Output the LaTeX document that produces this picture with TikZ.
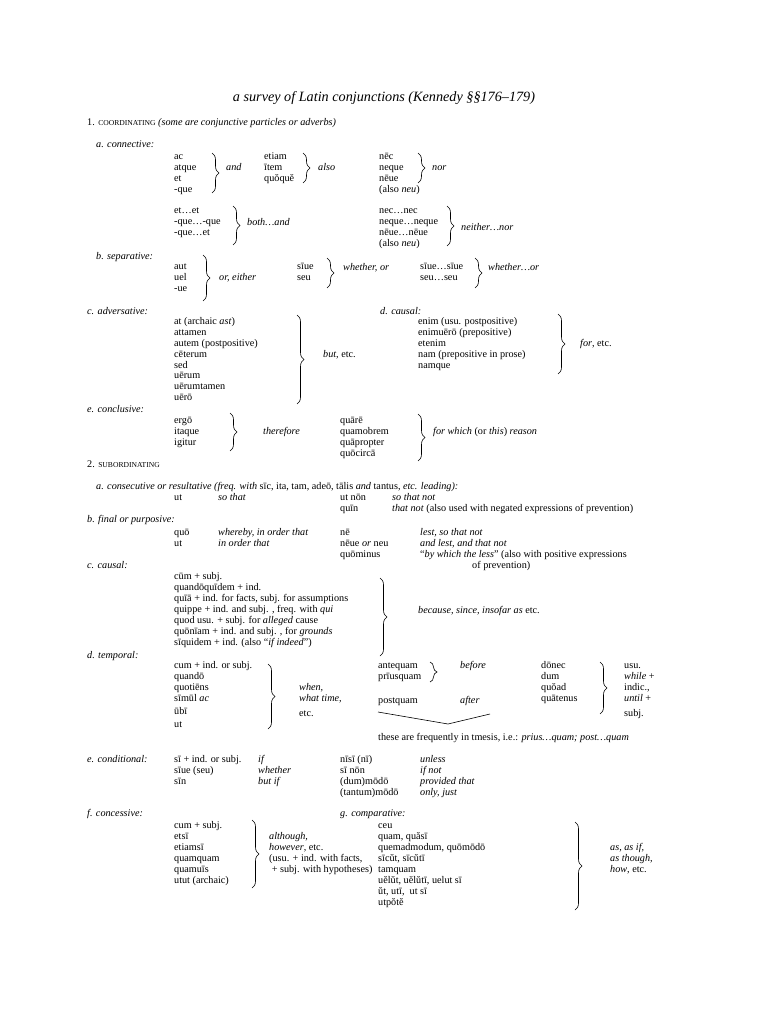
\documentclass[tikz,border=0pt]{standalone}
\usepackage{fontspec}
\setmainfont{Liberation Serif}
\usetikzlibrary{decorations.pathreplacing}
\tikzset{
  tx/.style={anchor=west,inner sep=0pt,text height=7pt,text depth=2pt,font=\fontsize{10.2}{11}\selectfont},
  it/.style={tx,font=\fontsize{10.2}{11}\selectfont\itshape},
  brc/.style={decorate,decoration={brace,amplitude=7pt},line width=0.6pt},
}
\newcommand\SC[1]{{\fontsize{7.6}{9}\selectfont #1}}
\begin{document}
\begin{tikzpicture}[x=1pt,y=-1pt]
\useasboundingbox (0,0) rectangle (768,1024);
\node[font=\fontsize{14.2}{16}\selectfont\itshape] (title) at (384,98) {a survey of Latin conjunctions (Kennedy §§176–179)};
\node[tx] (h1) at (87,123) {1. \SC{COORDINATING} \textit{(some are conjunctive particles or adverbs)}};
\node[it] (ha) at (96,145) {a. connective:};
\foreach \t [count=\i] in {ac,atque,et,-que} \node[tx] (ca\i) at (174,146+11*\i) {\t};
\draw[brc] (212,153) -- (212,193); \node[it] (and) at (226,168) {and};
\foreach \t [count=\i] in {etiam,ītem,quŏquĕ} \node[tx] (cb\i) at (264,146+11*\i) {\t};
\draw[brc] (303,153) -- (303,183); \node[it] (also) at (318,168) {also};
\foreach \t [count=\i] in {nēc,neque,nēue,{(also \textit{neu})}} \node[tx] (cc\i) at (379,146+11*\i) {\t};
\draw[brc] (418,153) -- (418,183); \node[it] (nor) at (432,168) {nor};
\foreach \t [count=\i] in {et…et,-que…-que,-que…et} \node[tx] (cd\i) at (174,200+11*\i) {\t};
\draw[brc] (233,206) -- (233,245); \node[it] (both) at (247,223) {both…and};
\foreach \t [count=\i] in {nec…nec,neque…neque,nēue…nēue,{(also \textit{neu})}} \node[tx] (ce\i) at (379,200+11*\i) {\t};
\draw[brc] (447,206) -- (447,246); \node[it] (neither) at (461,228) {neither…nor};
\node[it] (hb) at (96,257) {b. separative:};
\foreach \t [count=\i] in {aut,uel,-ue} \node[tx] (sa\i) at (174,256+11*\i) {\t};
\draw[brc] (203,255) -- (203,301); \node[it] (oreither) at (219,278) {or, either};
\foreach \t [count=\i] in {sīue,seu} \node[tx] (sb\i) at (297,256+11*\i) {\t};
\draw[brc] (327,258) -- (327,288); \node[it] (wh1) at (343,268) {whether, or};
\foreach \t [count=\i] in {sīue…sīue,seu…seu} \node[tx] (sc\i) at (420,256+11*\i) {\t};
\draw[brc] (475,258) -- (475,288); \node[it] (wh2) at (488,268) {whether…or};
\node[it] (hc) at (87,312) {c. adversative:};
\foreach \t [count=\i] in {{at (archaic \textit{ast})},attamen,{autem (postpositive)},cēterum,sed,uērum,uērumtamen,uērō} \node[tx] (ad\i) at (174,311+10.9*\i) {\t};
\draw[brc] (297,315) -- (297,404); \node[tx] (but) at (323,355) {\textit{but}, etc.};
\node[it] (hd) at (380,312) {d. causal:};
\foreach \t [count=\i] in {{enim (usu. postpositive)},{enimuērō (prepositive)},etenim,{nam (prepositive in prose)},namque} \node[tx] (cs\i) at (418,311+10.9*\i) {\t};
\draw[brc] (558,314) -- (558,374); \node[tx] (for) at (580,344) {\textit{for}, etc.};
\node[it] (he) at (87,410) {e. conclusive:};
\foreach \t [count=\i] in {ergō,itaque,igitur} \node[tx] (cl\i) at (174,410+11*\i) {\t};
\draw[brc] (230,413) -- (230,451); \node[it] (there) at (263,432) {therefore};
\foreach \t [count=\i] in {quārē,quamobrem,quāpropter,quōcircā} \node[tx] (cm\i) at (340,410+11*\i) {\t};
\draw[brc] (418,414) -- (418,461); \node[tx] (forwhich) at (433,432) {\textit{for which} (or \textit{this}) \textit{reason}};
\node[tx] (h2) at (87,465) {2. \SC{SUBORDINATING}};
\node[tx] (s2a) at (96,487) {\textit{a. consecutive or resultative (freq. with} sīc, ita, tam, adeō, tālis \textit{and} tantus, \textit{etc. leading):}};
\node[tx] (ut1) at (174,498) {ut}; \node[it] (sothat) at (218,498) {so that};
\node[tx] (utnon) at (340,498) {ut nōn}; \node[it] (sothatnot) at (392,498) {so that not};
\node[tx] (quin) at (340,509) {quīn}; \node[tx] (thatnot) at (392,509) {\textit{that not} (also used with negated expressions of prevention)};
\node[it] (s2b) at (87,520) {b. final or purposive:};
\node[tx] (quo) at (174,533) {quō}; \node[it] (whereby) at (218,533) {whereby, in order that};
\node[tx] (ut2) at (174,544) {ut}; \node[it] (inorder) at (218,544) {in order that};
\node[tx] (ne) at (340,533) {nē}; \node[it] (lest) at (420,533) {lest, so that not};
\node[tx] (neue) at (340,544) {nēue \textit{or} neu}; \node[it] (andlest) at (420,544) {and lest, and that not};
\node[tx] (quominus) at (340,555) {quōminus}; \node[tx] (bywhich) at (420,555) {“\textit{by which the less}” (also with positive expressions};
\node[tx] (ofprev) at (472,566) {of prevention)};
\node[it] (s2c) at (87,566) {c. causal:};
\foreach \t [count=\i] in {{cūm + subj.},{quandōquīdem + ind.},{quīā + ind. for facts, subj. for assumptions},{quippe + ind. and subj. , freq. with \textit{qui}},{quod usu. + subj. for \textit{alleged} cause},{quōnīam + ind. and subj. , for \textit{grounds}},{sīquidem + ind. (also “\textit{if indeed}”)}} \node[tx] (cz\i) at (174,566+11*\i) {\t};
\draw[brc] (380,578) -- (380,656); \node[tx] (because) at (418,611) {\textit{because, since, insofar as} etc.};
\node[it] (s2d) at (87,656) {d. temporal:};
\foreach \t/\y [count=\i] in {{cum + ind. or subj.}/666,quandō/677,quotiēns/688,{sīmūl \textit{ac}}/699,ūbī/712,ut/725} \node[tx] (tp\i) at (174,\y) {\t};
\draw[brc] (268,664) -- (268,729);
\node[it] (when) at (299,688) {when,}; \node[it] (whattime) at (299,699) {what time,}; \node[tx] (etc1) at (299,714) {etc.};
\node[tx] (ante) at (378,666) {antequam}; \node[tx] (prius) at (378,677) {prīusquam};
\draw[brc] (430,662) -- (430,682); \node[it] (before) at (460,666) {before};
\node[tx] (post) at (378,701) {postquam}; \node[it] (after) at (460,701) {after};
\coordinate (chA) at (378,712); \coordinate (chB) at (448,724); \coordinate (chC) at (490,714);
\draw[line width=0.6pt] (chA) -- (chB) -- (chC);
\node[tx] (tmesis) at (378,738) {these are frequently in tmesis, i.e.: \textit{prius…quam; post…quam}};
\foreach \t [count=\i] in {dōnec,dum,quŏad,quātenus} \node[tx] (dn\i) at (541,655+11*\i) {\t};
\draw[brc] (600,662) -- (600,714);
\node[tx] (usu) at (624,666) {usu.}; \node[tx] (while) at (624,677) {\textit{while} +}; \node[tx] (indic) at (624,688) {indic.,};
\node[tx] (until) at (624,699) {\textit{until} +}; \node[tx] (subj) at (624,714) {subj.};
\node[it] (s2e) at (87,760) {e. conditional:};
\foreach \t/\m [count=\i] in {{sī + ind. or subj.}/if,{sīue (seu)}/whether,sīn/{but if}} {\node[tx] (cn\i) at (174,749+11*\i) {\t}; \node[it] (cm\i) at (258,749+11*\i) {\m};}
\foreach \t/\m [count=\i] in {{nīsī (nī)}/unless,{sī nōn}/{if not},{(dum)mōdō}/{provided that},{(tantum)mōdō}/{only, just}} {\node[tx] (nn\i) at (340,749+11*\i) {\t}; \node[it] (nm\i) at (420,749+11*\i) {\m};}
\node[it] (s2f) at (87,814) {f. concessive:};
\foreach \t [count=\i] in {{cum + subj.},etsī,etiamsī,quamquam,quamuīs,{utut (archaic)}} \node[tx] (cc2\i) at (174,815+11*\i) {\t};
\draw[brc] (252,820) -- (252,888);
\node[it] (although) at (269,837) {although,}; \node[tx] (however) at (269,848) {\textit{however}, etc.};
\node[tx] (usuind) at (269,859) {(usu. + ind. with facts,}; \node[tx] (subjhyp) at (269,870) {\ + subj. with hypotheses)};
\node[it] (s2g) at (340,814) {g. comparative:};
\foreach \t [count=\i] in {ceu,{quam, quăsī},{quemadmodum, quōmōdō},{sīcŭt, sīcŭtī},tamquam,{uĕlŭt, uĕlŭtī, uelut sī},{ŭt, utī,\ \ ut sī},utpŏtĕ} \node[tx] (cp\i) at (378,815+11*\i) {\t};
\draw[brc] (575,822) -- (575,910);
\node[it] (asif) at (610,848) {as, as if,}; \node[it] (asthough) at (610,859) {as though,}; \node[tx] (how) at (610,870) {\textit{how}, etc.};
\end{tikzpicture}
\end{document}
